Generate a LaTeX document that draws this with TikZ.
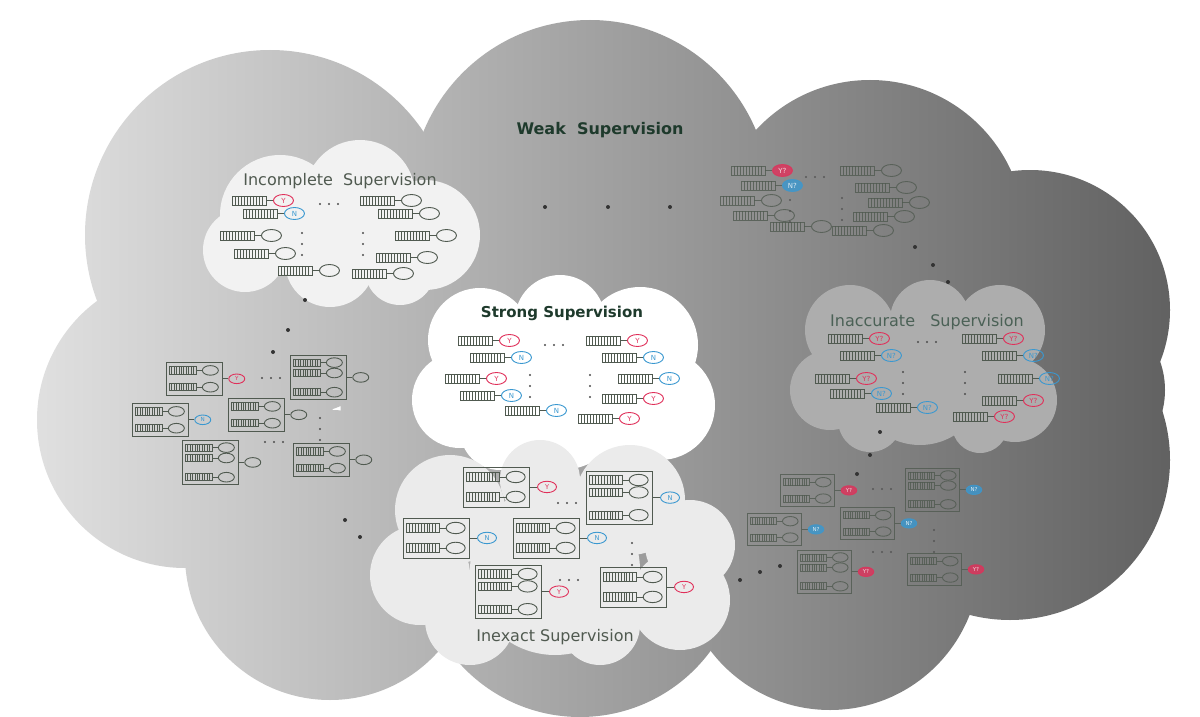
\documentclass[tikz,border=0pt]{standalone}
\usepackage{fontspec}
\setmainfont{DejaVu Sans}
\usetikzlibrary{shapes.geometric}
\definecolor{ig}{HTML}{505A50}
\definecolor{ired}{HTML}{E0305A}
\definecolor{iblue}{HTML}{3A98D0}
\definecolor{ttl}{HTML}{1E3A2C}
\tikzset{
 bar/.style={draw=ig,line width=0.8pt},
 hatch/.style={draw=ig,line width=0.4pt},
 lab/.style={ellipse,draw,line width=0.9pt,minimum width=20pt,minimum height=12pt,inner sep=0pt,font=\fontsize{7}{7}\selectfont},
 el/.style={lab,draw=ig},
 yl/.style={lab,draw=ired,text=ired},
 nl/.style={lab,draw=iblue,text=iblue},
 yf/.style={lab,draw=ired,fill=ired,text=white},
 nf/.style={lab,draw=iblue,fill=iblue,text=white},
 title/.style={font=\fontsize{16}{16}\selectfont,text=ig},
 sdot/.style={circle,fill=black!70,inner sep=0pt,minimum size=2.4pt},
 bdot/.style={circle,fill=black!80,inner sep=0pt,minimum size=4pt},
}
\newcommand\inst[4]{%
 \draw[bar] (#1,#2) rectangle ++(34,9);
 \foreach \hk in {3,6,...,31} {\draw[hatch] (#1+\hk,#2) -- ++(0,9);}
 \draw[bar] (#1+34,#2+4.5) -- ++(7,0) node[#4,anchor=west]{#3};}
\newcommand\bagtwo[5]{\begin{scope}[shift={(#1,#2)},scale=#5,transform shape]
 \draw[bar] (0,0) rectangle (70,42);
 \inst{4}{6}{}{el}\inst{4}{27}{}{el}
 \draw[bar] (70,21) -- ++(8,0) node[#4,anchor=west]{#3};
 \end{scope}}
\newcommand\bagthree[5]{\begin{scope}[shift={(#1,#2)},scale=#5,transform shape]
 \draw[bar] (0,0) rectangle (70,56);
 \inst{4}{5}{}{el}\inst{4}{18}{}{el}\inst{4}{42}{}{el}
 \draw[bar] (70,28) -- ++(8,0) node[#4,anchor=west]{#3};
 \end{scope}}
\newcommand\hdts[2]{\foreach \dq in {0,9,18} {\node[sdot] at (#1+\dq,#2) {};}}
\newcommand\vdts[2]{\foreach \dq in {0,11,22} {\node[sdot] at (#1,#2+\dq) {};}}
\newcommand\cloud[2]{\foreach \cx/\cy/\cr in {#2} {\fill[#1] (\cx,\cy) circle[radius=\cr];}}
\begin{document}
\begin{tikzpicture}[x=1pt,y=-1pt]
\useasboundingbox (0,0) rectangle (1200,717);
\fill[white] (0,0) rectangle (1200,717);
% big cloud
\foreach \cx/\cy/\cr in {270/235/185,590/200/180,870/235/155,1030/310/140,1010/460/160,830/560/150,
 580/555/162,330/555/145,185/420/148,600/390/260,1080/390/85}{
 \begin{scope}
 \clip (\cx,\cy) circle[radius=\cr];
 \shade[left color=black!12,right color=black!62] (30,0) rectangle (1175,717);
 \end{scope}}
\node[font=\bfseries\fontsize{16}{16}\selectfont,text=ttl] (weak) at (600,130) {Weak\ \ Supervision};
% incomplete cloud
\cloud{black!5}{280/215/60,360/195/55,425/235/55,330/262/45,245/250/42,400/270/35}
\node[title] (inc) at (340,181) {Incomplete\ \ Supervision};
\inst{232}{196}{Y}{yl}\inst{243}{209}{N}{nl}\inst{220}{231}{}{el}\inst{234}{249}{}{el}\inst{278}{266}{}{el}
\inst{360}{196}{}{el}\inst{378}{209}{}{el}\inst{395}{231}{}{el}\inst{376}{253}{}{el}\inst{352}{269}{}{el}
\hdts{320}{204}\vdts{302}{233}\vdts{363}{233}
% strong cloud
\cloud{white}{480/340/52,560/320/45,640/345/58,460/400/48,560/400/70,660/405/55,500/430/40,620/440/35}
\node[font=\bfseries\fontsize{15}{15}\selectfont,text=ttl] (str) at (562,313) {Strong Supervision};
\inst{458}{336}{Y}{yl}\inst{470}{353}{N}{nl}\inst{445}{374}{Y}{yl}\inst{460}{391}{N}{nl}\inst{505}{406}{N}{nl}
\inst{586}{336}{Y}{yl}\inst{602}{353}{N}{nl}\inst{618}{374}{N}{nl}\inst{602}{394}{Y}{yl}\inst{578}{414}{Y}{yl}
\hdts{545}{345}\vdts{530}{375}\vdts{590}{375}
% inaccurate cloud
\cloud{black!32}{850/330/45,930/320/40,1000/330/45,830/390/40,920/380/65,1015/400/42,870/420/32,980/425/28}
\node[title,text=ttl!80] (ina) at (927,322) {Inaccurate\ \ \ Supervision};
\inst{828}{334}{Y?}{yl}\inst{840}{351}{N?}{nl}\inst{815}{374}{Y?}{yl}\inst{830}{389}{N?}{nl}\inst{876}{403}{N?}{nl}
\inst{962}{334}{Y?}{yl}\inst{982}{351}{N?}{nl}\inst{998}{374}{N?}{nl}\inst{982}{396}{Y?}{yl}\inst{953}{412}{Y?}{yl}
\hdts{918}{342}\vdts{903}{372}\vdts{965}{372}
% inexact cloud
\cloud{black!8}{450/510/55,540/480/40,630/500/55,690/545/45,420/575/50,555/570/85,680/600/50,470/620/45,600/625/40}
\node[title] (inx) at (555,637) {Inexact Supervision};
\bagtwo{463}{467}{Y}{yl}{0.95}\bagthree{586}{471}{N}{nl}{0.95}
\bagtwo{403}{518}{N}{nl}{0.95}\bagtwo{513}{518}{N}{nl}{0.95}
\bagthree{475}{565}{Y}{yl}{0.95}\bagtwo{600}{567}{Y}{yl}{0.95}
\hdts{558}{503}\hdts{560}{580}\vdts{632}{543}
% left weak bags
\bagtwo{166}{362}{Y}{yl}{0.8}\bagtwo{132}{403}{N}{nl}{0.8}\bagthree{290}{355}{}{el}{0.8}
\bagtwo{228}{398}{}{el}{0.8}\bagthree{182}{440}{}{el}{0.8}\bagtwo{293}{443}{}{el}{0.8}
\hdts{262}{378}\hdts{265}{442}\vdts{320}{418}
% top right weak instances
\begin{scope}[opacity=0.8]
\inst{731}{166}{Y?}{yf}\inst{741}{181}{N?}{nf}\inst{720}{196}{}{el}\inst{733}{211}{}{el}\inst{770}{222}{}{el}
\inst{840}{166}{}{el}\inst{855}{183}{}{el}\inst{868}{198}{}{el}\inst{853}{212}{}{el}\inst{832}{226}{}{el}
\hdts{806}{177}\vdts{790}{200}\vdts{842}{198}
% bottom right weak bags
\bagtwo{780}{474}{Y?}{yf}{0.78}\bagthree{905}{468}{N?}{nf}{0.78}
\bagtwo{747}{513}{N?}{nf}{0.78}\bagtwo{840}{507}{N?}{nf}{0.78}
\bagthree{797}{550}{Y?}{yf}{0.78}\bagtwo{907}{553}{Y?}{yf}{0.78}
\hdts{873}{489}\hdts{873}{552}\vdts{934}{530}
\end{scope}
% connecting big dots
\foreach \p in {(545,207),(608,207),(670,207),(915,247),(933,265),(948,282),
 (305,300),(288,330),(273,352),(345,520),(360,537),
 (740,580),(760,572),(780,566),(880,432),(870,455),(857,474)}
 {\node[bdot] at \p {};}
\end{tikzpicture}
\end{document}
